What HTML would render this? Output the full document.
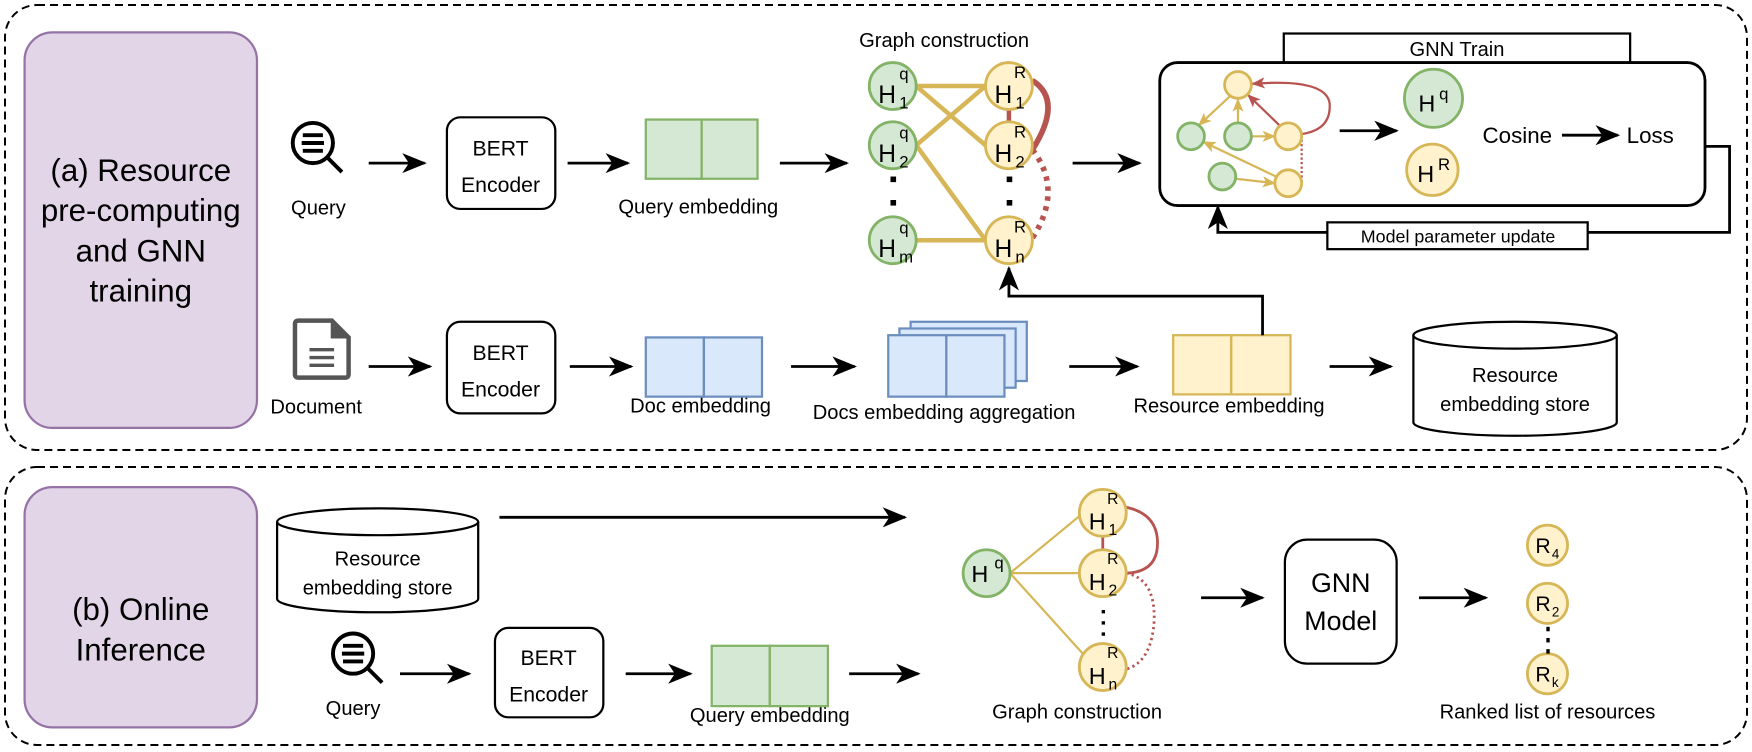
<!DOCTYPE html>
<html><head><meta charset="utf-8"><style>
html,body{margin:0;padding:0;background:#fff;overflow:hidden;}
svg{display:block;font-family:"Liberation Sans",Arial,sans-serif;}
</style></head><body>
<svg width="1752" height="752" viewBox="0 0 1752 752" xmlns="http://www.w3.org/2000/svg">
<defs>
<marker id="ab" markerWidth="22" markerHeight="22" refX="20" refY="11" orient="auto" markerUnits="userSpaceOnUse" viewBox="0 0 22 22"><path d="M0,2 L22,11 L0,20 L6,11 Z" fill="#000"/></marker>
<marker id="ay" markerWidth="12" markerHeight="12" refX="11" refY="6" orient="auto" markerUnits="userSpaceOnUse" viewBox="0 0 12 12"><path d="M0,1 L12,6 L0,11 L3,6 Z" fill="#d6b656"/></marker>
<marker id="arr" markerWidth="12" markerHeight="12" refX="11" refY="6" orient="auto" markerUnits="userSpaceOnUse" viewBox="0 0 12 12"><path d="M0,1 L12,6 L0,11 L3,6 Z" fill="#b85450"/></marker>
</defs>
<g fill="none" stroke="#000" stroke-width="2" stroke-dasharray="8,5">
<rect x="5" y="5" width="1742" height="445" rx="32"/>
<rect x="5" y="467" width="1742" height="278" rx="32"/>
</g>
<g transform="scale(1.1173)">
<rect x="22" y="29" width="208" height="354" rx="25" fill="#e1d5e7" stroke="#9673a6" stroke-width="2"/>
<rect x="22" y="436" width="208" height="215" rx="25" fill="#e1d5e7" stroke="#9673a6" stroke-width="2"/>
<g font-size="28" text-anchor="middle" fill="#000">
<text x="126" y="162">(a) Resource</text><text x="126" y="198">pre-computing</text><text x="126" y="234">and GNN</text><text x="126" y="270">training</text>
<text x="126" y="555">(b) Online</text><text x="126" y="591">Inference</text>
</g>
<g stroke="#000" stroke-width="3.5" fill="none">
<circle cx="280" cy="128" r="18"/><line x1="293" y1="141" x2="306" y2="154"/>
<line x1="271" y1="121" x2="289" y2="121"/><line x1="270" y1="128" x2="290" y2="128"/><line x1="271" y1="135" x2="289" y2="135"/>
<circle cx="316" cy="585" r="18"/><line x1="329" y1="598" x2="342" y2="611"/>
<line x1="307" y1="578" x2="325" y2="578"/><line x1="306" y1="585" x2="326" y2="585"/><line x1="307" y1="592" x2="325" y2="592"/>
</g>
<path d="M264,335 L264,290 Q264,287 267,287 L297,287 L312,302 L312,335 Q312,338 309,338 L267,338 Q264,338 264,335Z" fill="none" stroke="#555" stroke-width="4"/>
<path d="M296,287 L312,303 L296,303Z" fill="#555"/>
<g stroke="#555" stroke-width="3"><line x1="277" y1="313" x2="299" y2="313"/><line x1="277" y1="320" x2="299" y2="320"/><line x1="277" y1="327" x2="299" y2="327"/></g>
<g font-size="18" text-anchor="middle">
<text x="285" y="192">Query</text><text x="283" y="370">Document</text><text x="316" y="640">Query</text>
<text x="625" y="191">Query embedding</text><text x="627" y="369">Doc embedding</text>
<text x="845" y="375">Docs embedding aggregation</text><text x="1100" y="369">Resource embedding</text>
<text x="689" y="646">Query embedding</text><text x="964" y="643">Graph construction</text>
<text x="1385" y="643">Ranked list of resources</text>
<text x="845" y="42">Graph construction</text>
</g>
<g fill="#fff" stroke="#000" stroke-width="2"><rect x="400" y="105" width="97" height="82" rx="12"/><rect x="400" y="288" width="97" height="82" rx="12"/><rect x="443" y="562" width="97" height="80" rx="12"/></g>
<g font-size="19" text-anchor="middle"><text x="448" y="139">BERT</text><text x="448" y="172">Encoder</text><text x="448" y="322">BERT</text><text x="448" y="355">Encoder</text><text x="491" y="595">BERT</text><text x="491" y="628">Encoder</text></g>
<g stroke="#82b366" stroke-width="2" fill="#d5e8d4"><rect x="578" y="107" width="50" height="53"/><rect x="628" y="107" width="50" height="53"/><rect x="637" y="578" width="52" height="54"/><rect x="689" y="578" width="52" height="54"/></g>
<g stroke="#6c8ebf" stroke-width="2" fill="#dae8fc"><rect x="578" y="302" width="52" height="53"/><rect x="630" y="302" width="52" height="53"/>
<rect x="815" y="288" width="104" height="53"/><rect x="805" y="294" width="104" height="53"/><rect x="795" y="300" width="52" height="55"/><rect x="847" y="300" width="52" height="55"/></g>
<g stroke="#d6b656" stroke-width="2" fill="#fff2cc"><rect x="1050" y="300" width="52" height="53"/><rect x="1102" y="300" width="53" height="53"/></g>
<g stroke="#000" stroke-width="2.5" marker-end="url(#ab)">
<line x1="330" y1="146" x2="380" y2="146"/><line x1="508" y1="146" x2="562" y2="146"/><line x1="698" y1="146" x2="758" y2="146"/><line x1="960" y1="146" x2="1020" y2="146"/>
<line x1="1199" y1="117" x2="1250" y2="117"/><line x1="1398" y1="121" x2="1448" y2="121"/>
<line x1="330" y1="328" x2="385" y2="328"/><line x1="510" y1="328" x2="565" y2="328"/><line x1="708" y1="328" x2="765" y2="328"/><line x1="957" y1="328" x2="1018" y2="328"/><line x1="1190" y1="328" x2="1245" y2="328"/>
<line x1="447" y1="463" x2="810" y2="463"/><line x1="358" y1="603" x2="420" y2="603"/><line x1="560" y1="603" x2="618" y2="603"/><line x1="760" y1="603" x2="822" y2="603"/>
<line x1="1075" y1="535" x2="1130" y2="535"/><line x1="1270" y1="535" x2="1330" y2="535"/>
<polyline fill="none" points="1130,300 1130,265 903,265 903,240"/>
<polyline fill="none" points="1526,131 1548,131 1548,208 1090,208 1090,185"/>
</g>
<g stroke="#d6b656" stroke-width="4" fill="none">
<line x1="820" y1="77" x2="882" y2="77"/><line x1="820" y1="77" x2="882" y2="130"/><line x1="820" y1="130" x2="882" y2="77"/><line x1="820" y1="130" x2="882" y2="215"/><line x1="820" y1="215" x2="882" y2="215"/>
</g>
<line x1="903" y1="98" x2="903" y2="109" stroke="#b85450" stroke-width="4"/>
<path d="M924,72 Q952,90 924,134" stroke="#b85450" stroke-width="5" fill="none"/>
<path d="M924,134 Q952,170 924,213" stroke="#b85450" stroke-width="5" fill="none" stroke-dasharray="4,5"/>
<g stroke="#82b366" stroke-width="2.5" fill="#d5e8d4"><circle cx="799" cy="77" r="21"/><circle cx="799" cy="130" r="21"/><circle cx="799" cy="215" r="21"/></g>
<g stroke="#d6b656" stroke-width="2.5" fill="#fff2cc"><circle cx="903" cy="77" r="21"/><circle cx="903" cy="130" r="21"/><circle cx="903" cy="215" r="21"/></g>
<g fill="#000"><rect x="797" y="158" width="5" height="5"/><rect x="797" y="179" width="5" height="5"/><rect x="901" y="158" width="5" height="5"/><rect x="901" y="179" width="5" height="5"/></g>
<g font-size="22" text-anchor="middle">
<text x="794" y="92">H</text><text x="794" y="145">H</text><text x="794" y="230">H</text>
<text x="898" y="92">H</text><text x="898" y="145">H</text><text x="898" y="230">H</text>
</g>
<g font-size="15" text-anchor="middle">
<text x="809" y="71">q</text><text x="809" y="124">q</text><text x="809" y="209">q</text>
<text x="809" y="97">1</text><text x="809" y="150">2</text><text x="811" y="235">m</text>
<text x="913" y="70">R</text><text x="913" y="123">R</text><text x="913" y="208">R</text>
<text x="913" y="97">1</text><text x="913" y="150">2</text><text x="913" y="235">n</text>
</g>
<rect x="1149" y="30" width="310" height="26" fill="#fff" stroke="#000" stroke-width="2"/>
<text x="1304" y="50" font-size="18" text-anchor="middle">GNN Train</text>
<rect x="1038" y="56" width="488" height="128" rx="16" fill="none" stroke="#000" stroke-width="2.5"/>
<rect x="1188" y="199" width="233" height="24" fill="#fff" stroke="#000" stroke-width="2"/>
<text x="1305" y="217" font-size="16" text-anchor="middle">Model parameter update</text>
<g stroke-width="2" fill="none">
<line x1="1101" y1="86" x2="1073" y2="112" stroke="#d6b656" marker-end="url(#ay)"/>
<line x1="1108" y1="110" x2="1108" y2="89" stroke="#d6b656" marker-end="url(#ay)"/>
<line x1="1120" y1="122" x2="1141" y2="122" stroke="#d6b656" marker-end="url(#ay)"/>
<line x1="1106" y1="160" x2="1141" y2="164" stroke="#d6b656" marker-end="url(#ay)"/>
<line x1="1142" y1="158" x2="1077" y2="127" stroke="#d6b656" marker-end="url(#ay)"/>
<line x1="1145" y1="112" x2="1117" y2="85" stroke="#b85450" marker-end="url(#arr)"/>
<path d="M1165,120 Q1192,116 1190,92 Q1186,70 1121,75" stroke="#b85450" marker-end="url(#arr)"/>
<line x1="1165" y1="125" x2="1165" y2="162" stroke="#b85450" stroke-dasharray="2,2"/>
</g>
<g stroke="#82b366" stroke-width="2.5" fill="#d5e8d4"><circle cx="1066" cy="122" r="12"/><circle cx="1108" cy="122" r="12"/><circle cx="1094" cy="158" r="12"/><circle cx="1283" cy="88" r="26"/></g>
<g stroke="#d6b656" stroke-width="2.5" fill="#fff2cc"><circle cx="1108" cy="76" r="12"/><circle cx="1153" cy="122" r="12"/><circle cx="1153" cy="164" r="12"/><circle cx="1282" cy="152" r="23"/></g>
<text x="1277" y="100" font-size="21" text-anchor="middle">H</text><text x="1288" y="89" font-size="15">q</text>
<text x="1276" y="163" font-size="21" text-anchor="middle">H</text><text x="1287" y="152" font-size="15">R</text>
<text x="1358" y="128" font-size="20" text-anchor="middle">Cosine</text>
<text x="1477" y="128" font-size="20" text-anchor="middle">Loss</text>
<g fill="#fff" stroke="#000" stroke-width="2">
<path d="M1265,300 L1265,378 A91,12 0 0 0 1447,378 L1447,300"/><ellipse cx="1356" cy="300" rx="91" ry="12"/>
<path d="M248,467 L248,536 A90,12 0 0 0 428,536 L428,467"/><ellipse cx="338" cy="467" rx="90" ry="12"/>
</g>
<g font-size="18" text-anchor="middle"><text x="1356" y="342">Resource</text><text x="1356" y="368">embedding store</text>
<text x="338" y="506">Resource</text><text x="338" y="532">embedding store</text></g>
<!-- graph (b) -->
<g stroke="#d6b656" stroke-width="2" fill="none"><line x1="904" y1="513" x2="966" y2="462"/><line x1="904" y1="513" x2="966" y2="513"/><line x1="904" y1="513" x2="970" y2="586"/></g>
<line x1="987" y1="480" x2="987" y2="492" stroke="#b85450" stroke-width="2.5"/>
<path d="M1008,454 Q1036,460 1036,486 Q1036,512 1008,513" stroke="#b85450" stroke-width="2.5" fill="none"/>
<path d="M1008,513 Q1034,518 1033,555 Q1031,592 1008,599" stroke="#b85450" stroke-width="2.5" fill="none" stroke-dasharray="2,3"/>
<circle cx="883" cy="513" r="21" stroke="#82b366" stroke-width="2.5" fill="#d5e8d4"/>
<g stroke="#d6b656" stroke-width="2.5" fill="#fff2cc"><circle cx="987" cy="459" r="21"/><circle cx="987" cy="513" r="21"/><circle cx="987" cy="597" r="21"/>
<circle cx="1385" cy="488" r="18"/><circle cx="1385" cy="540" r="18"/><circle cx="1385" cy="603" r="18"/></g>
<g fill="#000"><rect x="986" y="546" width="3" height="3"/><rect x="986" y="556" width="3" height="3"/><rect x="986" y="566" width="3" height="3"/>
<rect x="1384" y="561" width="3" height="4"/><rect x="1384" y="571" width="3" height="4"/><rect x="1384" y="581" width="3" height="4"/></g>
<text x="877" y="521" font-size="21" text-anchor="middle">H</text><text x="890" y="509" font-size="15">q</text>
<g font-size="21" text-anchor="middle"><text x="982" y="474">H</text><text x="982" y="528">H</text><text x="982" y="612">H</text></g>
<g font-size="14" text-anchor="middle"><text x="996" y="451">R</text><text x="996" y="505">R</text><text x="996" y="589">R</text>
<text x="996" y="479">1</text><text x="996" y="533">2</text><text x="996" y="617">n</text></g>
<g font-size="19" text-anchor="middle"><text x="1381" y="495">R</text><text x="1381" y="547">R</text><text x="1381" y="610">R</text></g>
<g font-size="12"><text x="1389" y="500">4</text><text x="1389" y="552">2</text><text x="1389" y="615">k</text></g>
<rect x="1150" y="483" width="100" height="111" rx="20" fill="#fff" stroke="#000" stroke-width="2"/>
<g font-size="24" text-anchor="middle"><text x="1200" y="530">GNN</text><text x="1200" y="564">Model</text></g>
</g>
</svg>
</body></html>
